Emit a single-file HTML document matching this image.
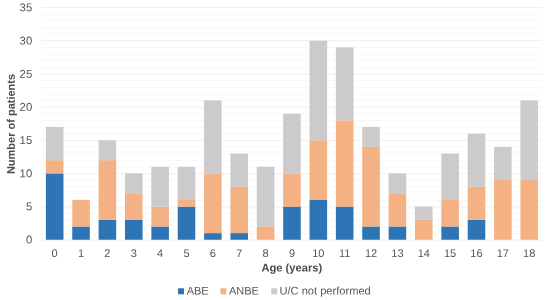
<!DOCTYPE html>
<html><head><meta charset="utf-8"><title>Chart</title>
<style>html,body{margin:0;padding:0;background:#fff}svg{display:block}text{font-family:"Liberation Sans",Arial,sans-serif;font-size:11px;fill:#545454}</style></head><body>
<svg width="550" height="300" viewBox="0 0 550 300">
<rect width="550" height="300" fill="#fff"/>
<line x1="40.8" x2="542.4" y1="233.45" y2="233.45" stroke="#F7F7F7" stroke-width="1"/>
<line x1="40.8" x2="542.4" y1="226.81" y2="226.81" stroke="#F7F7F7" stroke-width="1"/>
<line x1="40.8" x2="542.4" y1="220.16" y2="220.16" stroke="#F7F7F7" stroke-width="1"/>
<line x1="40.8" x2="542.4" y1="213.52" y2="213.52" stroke="#F7F7F7" stroke-width="1"/>
<line x1="40.8" x2="542.4" y1="200.23" y2="200.23" stroke="#F7F7F7" stroke-width="1"/>
<line x1="40.8" x2="542.4" y1="193.58" y2="193.58" stroke="#F7F7F7" stroke-width="1"/>
<line x1="40.8" x2="542.4" y1="186.93" y2="186.93" stroke="#F7F7F7" stroke-width="1"/>
<line x1="40.8" x2="542.4" y1="180.29" y2="180.29" stroke="#F7F7F7" stroke-width="1"/>
<line x1="40.8" x2="542.4" y1="167.00" y2="167.00" stroke="#F7F7F7" stroke-width="1"/>
<line x1="40.8" x2="542.4" y1="160.35" y2="160.35" stroke="#F7F7F7" stroke-width="1"/>
<line x1="40.8" x2="542.4" y1="153.71" y2="153.71" stroke="#F7F7F7" stroke-width="1"/>
<line x1="40.8" x2="542.4" y1="147.06" y2="147.06" stroke="#F7F7F7" stroke-width="1"/>
<line x1="40.8" x2="542.4" y1="133.77" y2="133.77" stroke="#F7F7F7" stroke-width="1"/>
<line x1="40.8" x2="542.4" y1="127.12" y2="127.12" stroke="#F7F7F7" stroke-width="1"/>
<line x1="40.8" x2="542.4" y1="120.48" y2="120.48" stroke="#F7F7F7" stroke-width="1"/>
<line x1="40.8" x2="542.4" y1="113.83" y2="113.83" stroke="#F7F7F7" stroke-width="1"/>
<line x1="40.8" x2="542.4" y1="100.54" y2="100.54" stroke="#F7F7F7" stroke-width="1"/>
<line x1="40.8" x2="542.4" y1="93.89" y2="93.89" stroke="#F7F7F7" stroke-width="1"/>
<line x1="40.8" x2="542.4" y1="87.25" y2="87.25" stroke="#F7F7F7" stroke-width="1"/>
<line x1="40.8" x2="542.4" y1="80.60" y2="80.60" stroke="#F7F7F7" stroke-width="1"/>
<line x1="40.8" x2="542.4" y1="67.31" y2="67.31" stroke="#F7F7F7" stroke-width="1"/>
<line x1="40.8" x2="542.4" y1="60.67" y2="60.67" stroke="#F7F7F7" stroke-width="1"/>
<line x1="40.8" x2="542.4" y1="54.02" y2="54.02" stroke="#F7F7F7" stroke-width="1"/>
<line x1="40.8" x2="542.4" y1="47.37" y2="47.37" stroke="#F7F7F7" stroke-width="1"/>
<line x1="40.8" x2="542.4" y1="34.08" y2="34.08" stroke="#F7F7F7" stroke-width="1"/>
<line x1="40.8" x2="542.4" y1="27.44" y2="27.44" stroke="#F7F7F7" stroke-width="1"/>
<line x1="40.8" x2="542.4" y1="20.79" y2="20.79" stroke="#F7F7F7" stroke-width="1"/>
<line x1="40.8" x2="542.4" y1="14.15" y2="14.15" stroke="#F7F7F7" stroke-width="1"/>
<line x1="40.8" x2="542.4" y1="240.10" y2="240.10" stroke="#EFEFEF" stroke-width="1"/>
<line x1="40.8" x2="542.4" y1="206.87" y2="206.87" stroke="#EFEFEF" stroke-width="1"/>
<line x1="40.8" x2="542.4" y1="173.64" y2="173.64" stroke="#EFEFEF" stroke-width="1"/>
<line x1="40.8" x2="542.4" y1="140.41" y2="140.41" stroke="#EFEFEF" stroke-width="1"/>
<line x1="40.8" x2="542.4" y1="107.19" y2="107.19" stroke="#EFEFEF" stroke-width="1"/>
<line x1="40.8" x2="542.4" y1="73.96" y2="73.96" stroke="#EFEFEF" stroke-width="1"/>
<line x1="40.8" x2="542.4" y1="40.73" y2="40.73" stroke="#EFEFEF" stroke-width="1"/>
<line x1="40.8" x2="542.4" y1="7.50" y2="7.50" stroke="#EFEFEF" stroke-width="1"/>
<rect x="45.89" y="173.42" width="17.58" height="66.33" fill="#2E75B6"/>
<rect x="45.89" y="160.16" width="17.58" height="13.27" fill="#F4B183"/>
<rect x="45.89" y="126.99" width="17.58" height="33.16" fill="#CCCACA"/>
<rect x="72.26" y="226.48" width="17.58" height="13.27" fill="#2E75B6"/>
<rect x="72.26" y="199.95" width="17.58" height="26.53" fill="#F4B183"/>
<rect x="98.62" y="219.85" width="17.58" height="19.90" fill="#2E75B6"/>
<rect x="98.62" y="160.16" width="17.58" height="59.70" fill="#F4B183"/>
<rect x="98.62" y="140.26" width="17.58" height="19.90" fill="#CCCACA"/>
<rect x="124.98" y="219.85" width="17.58" height="19.90" fill="#2E75B6"/>
<rect x="124.98" y="193.32" width="17.58" height="26.53" fill="#F4B183"/>
<rect x="124.98" y="173.42" width="17.58" height="19.90" fill="#CCCACA"/>
<rect x="151.35" y="226.48" width="17.58" height="13.27" fill="#2E75B6"/>
<rect x="151.35" y="206.59" width="17.58" height="19.90" fill="#F4B183"/>
<rect x="151.35" y="166.79" width="17.58" height="39.80" fill="#CCCACA"/>
<rect x="177.71" y="206.59" width="17.58" height="33.16" fill="#2E75B6"/>
<rect x="177.71" y="199.95" width="17.58" height="6.63" fill="#F4B183"/>
<rect x="177.71" y="166.79" width="17.58" height="33.16" fill="#CCCACA"/>
<rect x="204.07" y="233.12" width="17.58" height="6.63" fill="#2E75B6"/>
<rect x="204.07" y="173.42" width="17.58" height="59.70" fill="#F4B183"/>
<rect x="204.07" y="100.46" width="17.58" height="72.96" fill="#CCCACA"/>
<rect x="230.44" y="233.12" width="17.58" height="6.63" fill="#2E75B6"/>
<rect x="230.44" y="186.69" width="17.58" height="46.43" fill="#F4B183"/>
<rect x="230.44" y="153.52" width="17.58" height="33.16" fill="#CCCACA"/>
<rect x="256.80" y="226.48" width="17.58" height="13.27" fill="#F4B183"/>
<rect x="256.80" y="166.79" width="17.58" height="59.70" fill="#CCCACA"/>
<rect x="283.16" y="206.59" width="17.58" height="33.16" fill="#2E75B6"/>
<rect x="283.16" y="173.42" width="17.58" height="33.16" fill="#F4B183"/>
<rect x="283.16" y="113.73" width="17.58" height="59.70" fill="#CCCACA"/>
<rect x="309.53" y="199.95" width="17.58" height="39.80" fill="#2E75B6"/>
<rect x="309.53" y="140.26" width="17.58" height="59.70" fill="#F4B183"/>
<rect x="309.53" y="40.76" width="17.58" height="99.49" fill="#CCCACA"/>
<rect x="335.89" y="206.59" width="17.58" height="33.16" fill="#2E75B6"/>
<rect x="335.89" y="120.36" width="17.58" height="86.23" fill="#F4B183"/>
<rect x="335.89" y="47.40" width="17.58" height="72.96" fill="#CCCACA"/>
<rect x="362.25" y="226.48" width="17.58" height="13.27" fill="#2E75B6"/>
<rect x="362.25" y="146.89" width="17.58" height="79.59" fill="#F4B183"/>
<rect x="362.25" y="126.99" width="17.58" height="19.90" fill="#CCCACA"/>
<rect x="388.61" y="226.48" width="17.58" height="13.27" fill="#2E75B6"/>
<rect x="388.61" y="193.32" width="17.58" height="33.16" fill="#F4B183"/>
<rect x="388.61" y="173.42" width="17.58" height="19.90" fill="#CCCACA"/>
<rect x="414.98" y="219.85" width="17.58" height="19.90" fill="#F4B183"/>
<rect x="414.98" y="206.59" width="17.58" height="13.27" fill="#CCCACA"/>
<rect x="441.34" y="226.48" width="17.58" height="13.27" fill="#2E75B6"/>
<rect x="441.34" y="199.95" width="17.58" height="26.53" fill="#F4B183"/>
<rect x="441.34" y="153.52" width="17.58" height="46.43" fill="#CCCACA"/>
<rect x="467.70" y="219.85" width="17.58" height="19.90" fill="#2E75B6"/>
<rect x="467.70" y="186.69" width="17.58" height="33.16" fill="#F4B183"/>
<rect x="467.70" y="133.62" width="17.58" height="53.06" fill="#CCCACA"/>
<rect x="494.07" y="180.05" width="17.58" height="59.70" fill="#F4B183"/>
<rect x="494.07" y="146.89" width="17.58" height="33.16" fill="#CCCACA"/>
<rect x="520.43" y="180.05" width="17.58" height="59.70" fill="#F4B183"/>
<rect x="520.43" y="100.46" width="17.58" height="79.59" fill="#CCCACA"/>
<text transform="translate(32.2,243.50) rotate(0.03)" style="font-size:11.3px" text-anchor="end">0</text>
<text transform="translate(32.2,210.34) rotate(0.03)" style="font-size:11.3px" text-anchor="end">5</text>
<text transform="translate(32.2,177.17) rotate(0.03)" style="font-size:11.3px" text-anchor="end">10</text>
<text transform="translate(32.2,144.01) rotate(0.03)" style="font-size:11.3px" text-anchor="end">15</text>
<text transform="translate(32.2,110.84) rotate(0.03)" style="font-size:11.3px" text-anchor="end">20</text>
<text transform="translate(32.2,77.68) rotate(0.03)" style="font-size:11.3px" text-anchor="end">25</text>
<text transform="translate(32.2,44.51) rotate(0.03)" style="font-size:11.3px" text-anchor="end">30</text>
<text transform="translate(32.2,11.35) rotate(0.03)" style="font-size:11.3px" text-anchor="end">35</text>
<text transform="translate(54.68,256.9) rotate(0.03)" text-anchor="middle">0</text>
<text transform="translate(81.04,256.9) rotate(0.03)" text-anchor="middle">1</text>
<text transform="translate(107.41,256.9) rotate(0.03)" text-anchor="middle">2</text>
<text transform="translate(133.77,256.9) rotate(0.03)" text-anchor="middle">3</text>
<text transform="translate(160.13,256.9) rotate(0.03)" text-anchor="middle">4</text>
<text transform="translate(186.50,256.9) rotate(0.03)" text-anchor="middle">5</text>
<text transform="translate(212.86,256.9) rotate(0.03)" text-anchor="middle">6</text>
<text transform="translate(239.22,256.9) rotate(0.03)" text-anchor="middle">7</text>
<text transform="translate(265.59,256.9) rotate(0.03)" text-anchor="middle">8</text>
<text transform="translate(291.95,256.9) rotate(0.03)" text-anchor="middle">9</text>
<text transform="translate(318.31,256.9) rotate(0.03)" text-anchor="middle">10</text>
<text transform="translate(344.68,256.9) rotate(0.03)" text-anchor="middle">11</text>
<text transform="translate(371.04,256.9) rotate(0.03)" text-anchor="middle">12</text>
<text transform="translate(397.40,256.9) rotate(0.03)" text-anchor="middle">13</text>
<text transform="translate(423.77,256.9) rotate(0.03)" text-anchor="middle">14</text>
<text transform="translate(450.13,256.9) rotate(0.03)" text-anchor="middle">15</text>
<text transform="translate(476.49,256.9) rotate(0.03)" text-anchor="middle">16</text>
<text transform="translate(502.86,256.9) rotate(0.03)" text-anchor="middle">17</text>
<text transform="translate(529.22,256.9) rotate(0.03)" text-anchor="middle">18</text>
<text transform="translate(291.8,271.6) rotate(0.03)" text-anchor="middle" font-weight="bold" style="font-size:11.15px;fill:#4A4A4A">Age (years)</text>
<text transform="translate(14.65,124.0) rotate(-90.03)" text-anchor="middle" font-weight="bold" style="fill:#4A4A4A">Number of patients</text>
<rect x="178" y="288.3" width="6" height="6" fill="#2E75B6"/><text transform="translate(186.7,294.5) rotate(0.03)">ABE</text>
<rect x="220.4" y="288.3" width="6" height="6" fill="#F4B183"/><text transform="translate(229,294.5) rotate(0.03)">ANBE</text>
<rect x="271.2" y="288.3" width="6" height="6" fill="#CCCACA"/><text transform="translate(279.5,294.5) rotate(0.03)" style="font-size:11.1px">U/C not performed</text>
</svg></body></html>
